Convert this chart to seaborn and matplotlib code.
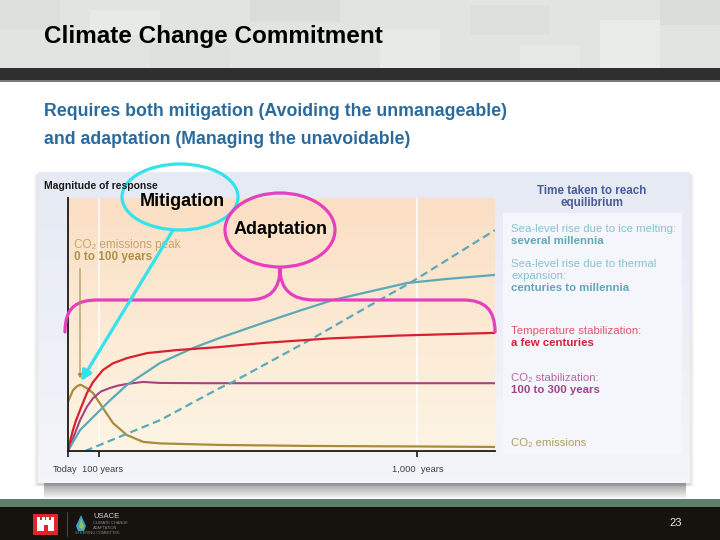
import numpy as np
import matplotlib
matplotlib.use('Agg')
import matplotlib.pyplot as plt
from matplotlib.patches import Ellipse, Rectangle, PathPatch, Polygon
from matplotlib.path import Path
from matplotlib.colors import LinearSegmentedColormap
from matplotlib.transforms import ScaledTranslation
import seaborn as sns

# curves: x in years after today, y = relative magnitude (axis top = 1)
emis_years = [0, 16, 30, 41, 61, 81, 111, 140, 179, 225, 273, 442, 700, 1000, 1221]
emis_vals = [0.195, 0.24, 0.257, 0.262, 0.248, 0.229, 0.17, 0.11, 0.063, 0.036, 0.03, 0.024, 0.02, 0.018, 0.016]

co2_years = [0, 16, 39, 61, 81, 105, 131, 155, 179, 225, 273, 400, 1221]
co2_vals = [0, 0.05, 0.122, 0.175, 0.209, 0.235, 0.249, 0.259, 0.265, 0.273, 0.269, 0.268, 0.268]

temp_years = [0, 8, 16, 25, 39, 61, 81, 111, 140, 179, 236, 321, 442, 564, 754, 943, 1221]
temp_vals = [0, 0.045, 0.083, 0.118, 0.162, 0.229, 0.273, 0.32, 0.347, 0.367, 0.387, 0.399, 0.411, 0.427,
             0.445, 0.456, 0.467]

thermal_years = [0, 16, 39, 81, 131, 179, 273, 366, 442, 564, 669, 763, 972, 1085, 1221]
thermal_vals = [0, 0.035, 0.083, 0.134, 0.2, 0.261, 0.348, 0.407, 0.447, 0.506, 0.555, 0.597, 0.664, 0.68, 0.696]

ice_years = [55, 273, 442, 479, 697, 859, 980, 1221]
ice_vals = [0, 0.122, 0.249, 0.273, 0.439, 0.569, 0.664, 0.873]

tick_years = [0, 100, 1000]
tick_labels = ['Today', '100 years', '1,000  years']

c_emis = '#a98b3d'
c_co2 = '#a3437f'
c_temp = '#d8202e'
c_teal = '#5ba9b8'
c_cyan = '#33e2ec'
c_mag = '#e63fbd'

sns.set_theme(style='white')
plt.rcParams['font.family'] = ['Liberation Sans', 'DejaVu Sans']

fig = plt.figure(figsize=(7.2, 5.4), dpi=100)


def px_axes(z):
    a = fig.add_axes([0, 0, 1, 1], zorder=z)
    a.set_xlim(0, 720)
    a.set_ylim(540, 0)
    a.axis('off')
    a.patch.set_alpha(0)
    return a


def vgrad(a, c0, c1, ext, z, alpha=1.0):
    cm = LinearSegmentedColormap.from_list('g', [c0, c1])
    a.imshow(np.linspace(0, 1, 64)[:, None], cmap=cm, extent=ext, aspect='auto', zorder=z, alpha=alpha)


bg = px_axes(0)

# slide background
bg.add_patch(Rectangle((0, 0), 720, 540, color='white'))
bg.add_patch(Rectangle((0, 0), 720, 68, color='#e1e5e0'))
for x, y, w, h, c in [(0, 0, 60, 30, '#dbe0da'), (90, 10, 70, 25, '#e7eae5'), (250, 0, 90, 22, '#d9ded8'),
                      (380, 30, 60, 38, '#e7eae5'), (470, 5, 80, 30, '#dce1db'), (600, 20, 60, 48, '#e8ebe6'),
                      (660, 0, 60, 25, '#d9ded8'), (150, 45, 80, 23, '#dde2dc'), (520, 45, 60, 23, '#e6e9e4')]:
    bg.add_patch(Rectangle((x, y), w, h, color=c, lw=0))
bg.add_patch(Rectangle((0, 68), 720, 12, color='#2f2f2f', lw=0))
bg.add_patch(Rectangle((0, 80), 720, 2, color='#7a7a7a', lw=0))

# chart panel with shadow
vgrad(bg, '#8c8c8c', '#f4f4f4', [44, 686, 498, 480], 1)
for i in range(6):
    bg.add_patch(Rectangle((34 + i, 174), 660 - 2 * i, 312, color='#808080', alpha=0.05, lw=0, zorder=1))
vgrad(bg, '#e6eaf4', '#f3f5fa', [38, 690, 483, 172], 2)
bg.add_patch(Rectangle((503, 213), 179, 241, color='#f4f6fb', lw=0, zorder=3))
vgrad(bg, '#fbdfc4', '#fdf4e4', [68, 495, 451, 198], 3)

# footer
bg.add_patch(Rectangle((0, 499), 720, 8, color='#5e7e6c', lw=0, zorder=4))
bg.add_patch(Rectangle((0, 507), 720, 33, color='#16130f', lw=0, zorder=4))
bg.add_patch(Rectangle((33, 514), 25, 21, color='#e0262c', lw=0, zorder=5))
bg.add_patch(Rectangle((37, 520), 17, 11, color='white', lw=0, zorder=5))
for x in [37, 41.5, 46, 50.5]:
    bg.add_patch(Rectangle((x, 517), 3, 3, color='white', lw=0, zorder=5))
bg.add_patch(Rectangle((43.5, 525), 4, 6, color='#e0262c', lw=0, zorder=5))
bg.plot([66.5, 66.5], [512, 536], color='#555555', lw=0.6, zorder=5)
bg.add_patch(Polygon([[81, 515], [76, 526], [78, 531], [84, 531], [86, 526]], color='#3aa0c8', lw=0, zorder=5))
bg.add_patch(Polygon([[81, 519], [79, 527], [83, 530], [84, 526]], color='#8cc060', lw=0, zorder=5))
bg.text(93, 517, 'USACE', color='#d0d0d0', fontsize=5.5, va='center', zorder=6)
bg.text(93, 523, 'CLIMATE CHANGE', color='#888888', fontsize=2.8, va='center', zorder=6)
bg.text(93, 528, 'ADAPTATION', color='#888888', fontsize=2.8, va='center', zorder=6)
bg.text(75, 533.5, 'STEERING COMMITTEE', color='#888888', fontsize=2.8, va='center', zorder=6)
bg.text(676, 523, '23', color='#e8e8e8', fontsize=8, ha='center', va='center', zorder=6)
bg.set_xlim(0, 720)
bg.set_ylim(540, 0)

# titles
bg.text(44, 37, 'Climate Change Commitment', fontsize=17.5, fontweight='bold', color='black', va='center', zorder=6)
bg.text(44, 112, 'Requires both mitigation (Avoiding the unmanageable)', fontsize=12.8,
        fontweight='bold', color='#2b6a9c', va='center', zorder=6)
bg.text(44, 139, 'and adaptation (Managing the unavoidable)', fontsize=12.8,
        fontweight='bold', color='#2b6a9c', va='center', zorder=6)

# the chart itself
ax = fig.add_axes([68 / 720, (540 - 451) / 540, (495 - 68) / 720, (451 - 198) / 540], zorder=2)
ax.patch.set_alpha(0)

fx = [-5000, 0, 100, 5000]
fp = [-1550, 0, 31, 31 + 4900 * 318 / 900]
ax.set_xscale('function', functions=(lambda x: np.interp(x, fx, fp), lambda p: np.interp(p, fp, fx)))

for v in [100, 1000]:
    ax.axvline(v, color='white', lw=1.3, alpha=0.85, zorder=1)

sns.lineplot(x=emis_years, y=emis_vals, ax=ax, color=c_emis, lw=1.6, estimator=None, sort=False)
sns.lineplot(x=co2_years, y=co2_vals, ax=ax, color=c_co2, lw=1.5, estimator=None, sort=False)
sns.lineplot(x=thermal_years, y=thermal_vals, ax=ax, color=c_teal, lw=1.6, estimator=None, sort=False)
sns.lineplot(x=ice_years, y=ice_vals, ax=ax, color=c_teal, lw=1.6, estimator=None, sort=False)
ax.lines[-1].set_linestyle((0, (3.5, 2)))
sns.lineplot(x=temp_years, y=temp_vals, ax=ax, color=c_temp, lw=1.6, estimator=None, sort=False)

ax.set_xlim(0, 1221)
ax.set_ylim(0, 1)
sns.despine(ax=ax)
for s in ['left', 'bottom']:
    ax.spines[s].set_color('#1a1a1a')
    ax.spines[s].set_linewidth(1.3)
ax.set_yticks([])
ax.set_xticks(tick_years)
ax.set_xticklabels(tick_labels, fontsize=6.7, color='#404040')
ax.tick_params(axis='x', direction='out', length=4, width=1.2, color='#1a1a1a', pad=6, bottom=True)
for lab, d in zip(ax.get_xticklabels(), [-3, 4, 1]):
    lab.set_transform(lab.get_transform() + ScaledTranslation(d / 100, 0, fig.dpi_scale_trans))
ax.set_xlabel('')
ax.set_ylabel('')

# labels inside the figure panel
ov = px_axes(3)
ov.text(44, 186, 'Magnitude of response', fontsize=7.5, fontweight='bold', color='#1a1a1a', va='center')
ov.text(74, 245, 'CO₂ emissions peak', fontsize=8.5, color='#c4a466', va='center')
ov.text(74, 257, '0 to 100 years', fontsize=8.5, fontweight='bold', color='#b0904a', va='center')
ov.annotate('', xy=(80, 381), xytext=(80, 266),
            arrowprops=dict(arrowstyle='-|>', color='#a88a48', lw=0.8, mutation_scale=6))

ov.text(592, 191, 'Time taken to reach', fontsize=8.4, fontweight='bold', color='#4b5c98', ha='center', va='center')
ov.text(592, 203, 'equilibrium', fontsize=8.4, fontweight='bold', color='#4b5c98', ha='center', va='center')
right_labels = [
    (229, 'Sea-level rise due to ice melting:', '#86c2cf', 'normal'),
    (241, 'several millennia', '#62a8b9', 'bold'),
    (264, 'Sea-level rise due to thermal', '#86c2cf', 'normal'),
    (276, 'expansion:', '#86c2cf', 'normal'),
    (288, 'centuries to millennia', '#62a8b9', 'bold'),
    (331, 'Temperature stabilization:', '#e2566a', 'normal'),
    (343, 'a few centuries', '#d8203a', 'bold'),
    (378, 'CO₂ stabilization:', '#b865a6', 'normal'),
    (390, '100 to 300 years', '#a3438a', 'bold'),
    (443, 'CO₂ emissions', '#b59d62', 'normal'),
]
for y, t, c, w in right_labels:
    ov.text(511, y, t, fontsize=8.2, color=c, fontweight=w, va='center')

# mitigation / adaptation call-outs
ov.add_patch(Ellipse((180, 197), 116, 66, fill=False, ec=c_cyan, lw=2.3))
ov.text(182, 201, 'Mitigation', fontsize=13, fontweight='bold', color='black', ha='center', va='center')
ov.annotate('', xy=(81, 381), xytext=(173, 230),
            arrowprops=dict(arrowstyle='-|>', color=c_cyan, lw=2.3, mutation_scale=15, shrinkA=0, shrinkB=0))

ov.add_patch(Ellipse((280, 230), 110, 74, fill=False, ec=c_mag, lw=2.3))
ov.text(281, 230, 'Adaptation', fontsize=13, fontweight='bold', color='black', ha='center', va='center')

brace = [
    (Path.MOVETO, (65, 332)), (Path.CURVE4, (65, 306)), (Path.CURVE4, (78, 300)), (Path.CURVE4, (98, 300)),
    (Path.LINETO, (247, 300)), (Path.CURVE4, (270, 300)), (Path.CURVE4, (280, 290)), (Path.CURVE4, (280, 268)),
    (Path.CURVE4, (280, 290)), (Path.CURVE4, (292, 300)), (Path.CURVE4, (315, 300)),
    (Path.LINETO, (463, 300)), (Path.CURVE4, (485, 300)), (Path.CURVE4, (495, 310)), (Path.CURVE4, (495, 332)),
]
codes, verts = zip(*brace)
ov.add_patch(PathPatch(Path(verts, codes), fill=False, ec=c_mag, lw=2.3, capstyle='round', joinstyle='round'))

fig.savefig('out.png', dpi=100)
